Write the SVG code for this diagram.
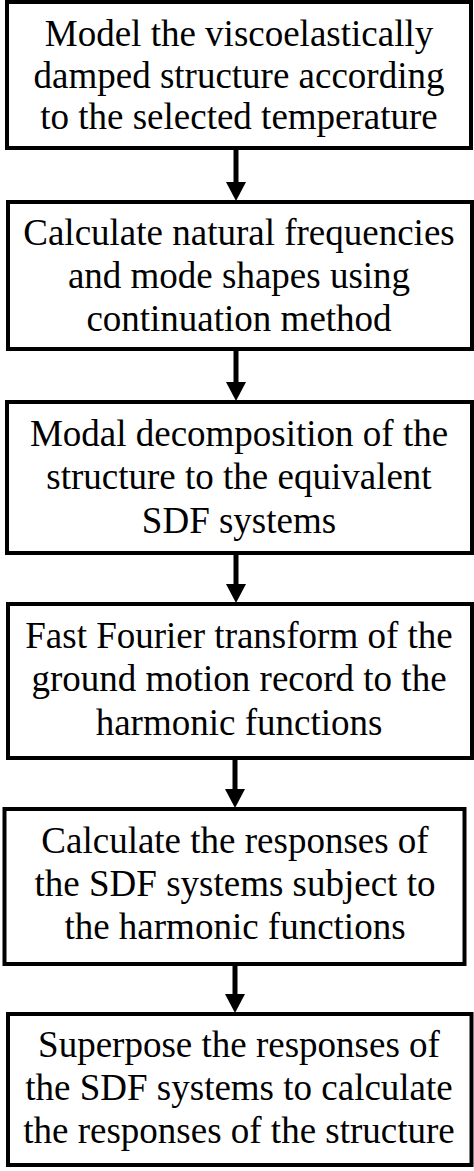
<svg xmlns="http://www.w3.org/2000/svg" width="474" height="1171" viewBox="0 0 474 1171">
<style>
.box{fill:#fff;stroke:#000;stroke-width:4}
.lbl{font-family:"Liberation Serif","Times New Roman",serif;font-size:37px;fill:#000;text-anchor:middle}
.conn{stroke:#000;stroke-width:5;fill:none}
</style>
<defs>
<marker id="ah" markerUnits="userSpaceOnUse" viewBox="0 0 19 20" markerWidth="19" markerHeight="20" refX="9" refY="10" orient="auto">
<path d="M0,0 L19,10 L0,20 Z" fill="#000"/>
</marker>
</defs>
<rect width="474" height="1171" fill="#fff"/>
<g id="connectors">
<line class="conn" x1="236" y1="149" x2="236" y2="191" marker-end="url(#ah)"/>
<line class="conn" x1="236" y1="350" x2="236" y2="391" marker-end="url(#ah)"/>
<line class="conn" x1="236" y1="554" x2="236" y2="593" marker-end="url(#ah)"/>
<line class="conn" x1="235" y1="759" x2="235" y2="798" marker-end="url(#ah)"/>
<line class="conn" x1="235" y1="965" x2="235" y2="1003" marker-end="url(#ah)"/>
</g>
<g id="node1">
<rect class="box" x="7" y="2" width="464" height="146"/>
<text class="lbl" x="239" y="46">Model the viscoelastically</text>
<text class="lbl" x="239" y="87.5">damped structure according</text>
<text class="lbl" x="239" y="129">to the selected temperature</text>
</g>
<g id="node2">
<rect class="box" x="8" y="202" width="464" height="147"/>
<text class="lbl" x="239" y="245">Calculate natural frequencies</text>
<text class="lbl" x="239" y="288">and mode shapes using</text>
<text class="lbl" x="239" y="331">continuation method</text>
</g>
<g id="node3">
<rect class="box" x="7" y="402" width="465" height="151"/>
<text class="lbl" x="239" y="446">Modal decomposition of the</text>
<text class="lbl" x="239" y="489">structure to the equivalent</text>
<text class="lbl" x="239" y="533">SDF systems</text>
</g>
<g id="node4">
<rect class="box" x="8" y="604" width="464" height="154"/>
<text class="lbl" x="239" y="648">Fast Fourier transform of the</text>
<text class="lbl" x="239" y="691">ground motion record to the</text>
<text class="lbl" x="239" y="735">harmonic functions</text>
</g>
<g id="node5">
<rect class="box" x="4.5" y="809" width="460" height="155"/>
<text class="lbl" x="235" y="853">Calculate the responses of</text>
<text class="lbl" x="235" y="896">the SDF systems subject to</text>
<text class="lbl" x="235" y="939">the harmonic functions</text>
</g>
<g id="node6">
<rect class="box" x="8" y="1014" width="463.5" height="151"/>
<text class="lbl" x="239" y="1057">Superpose the responses of</text>
<text class="lbl" x="239" y="1100">the SDF systems to calculate</text>
<text class="lbl" x="239" y="1143">the responses of the structure</text>
</g>
</svg>
